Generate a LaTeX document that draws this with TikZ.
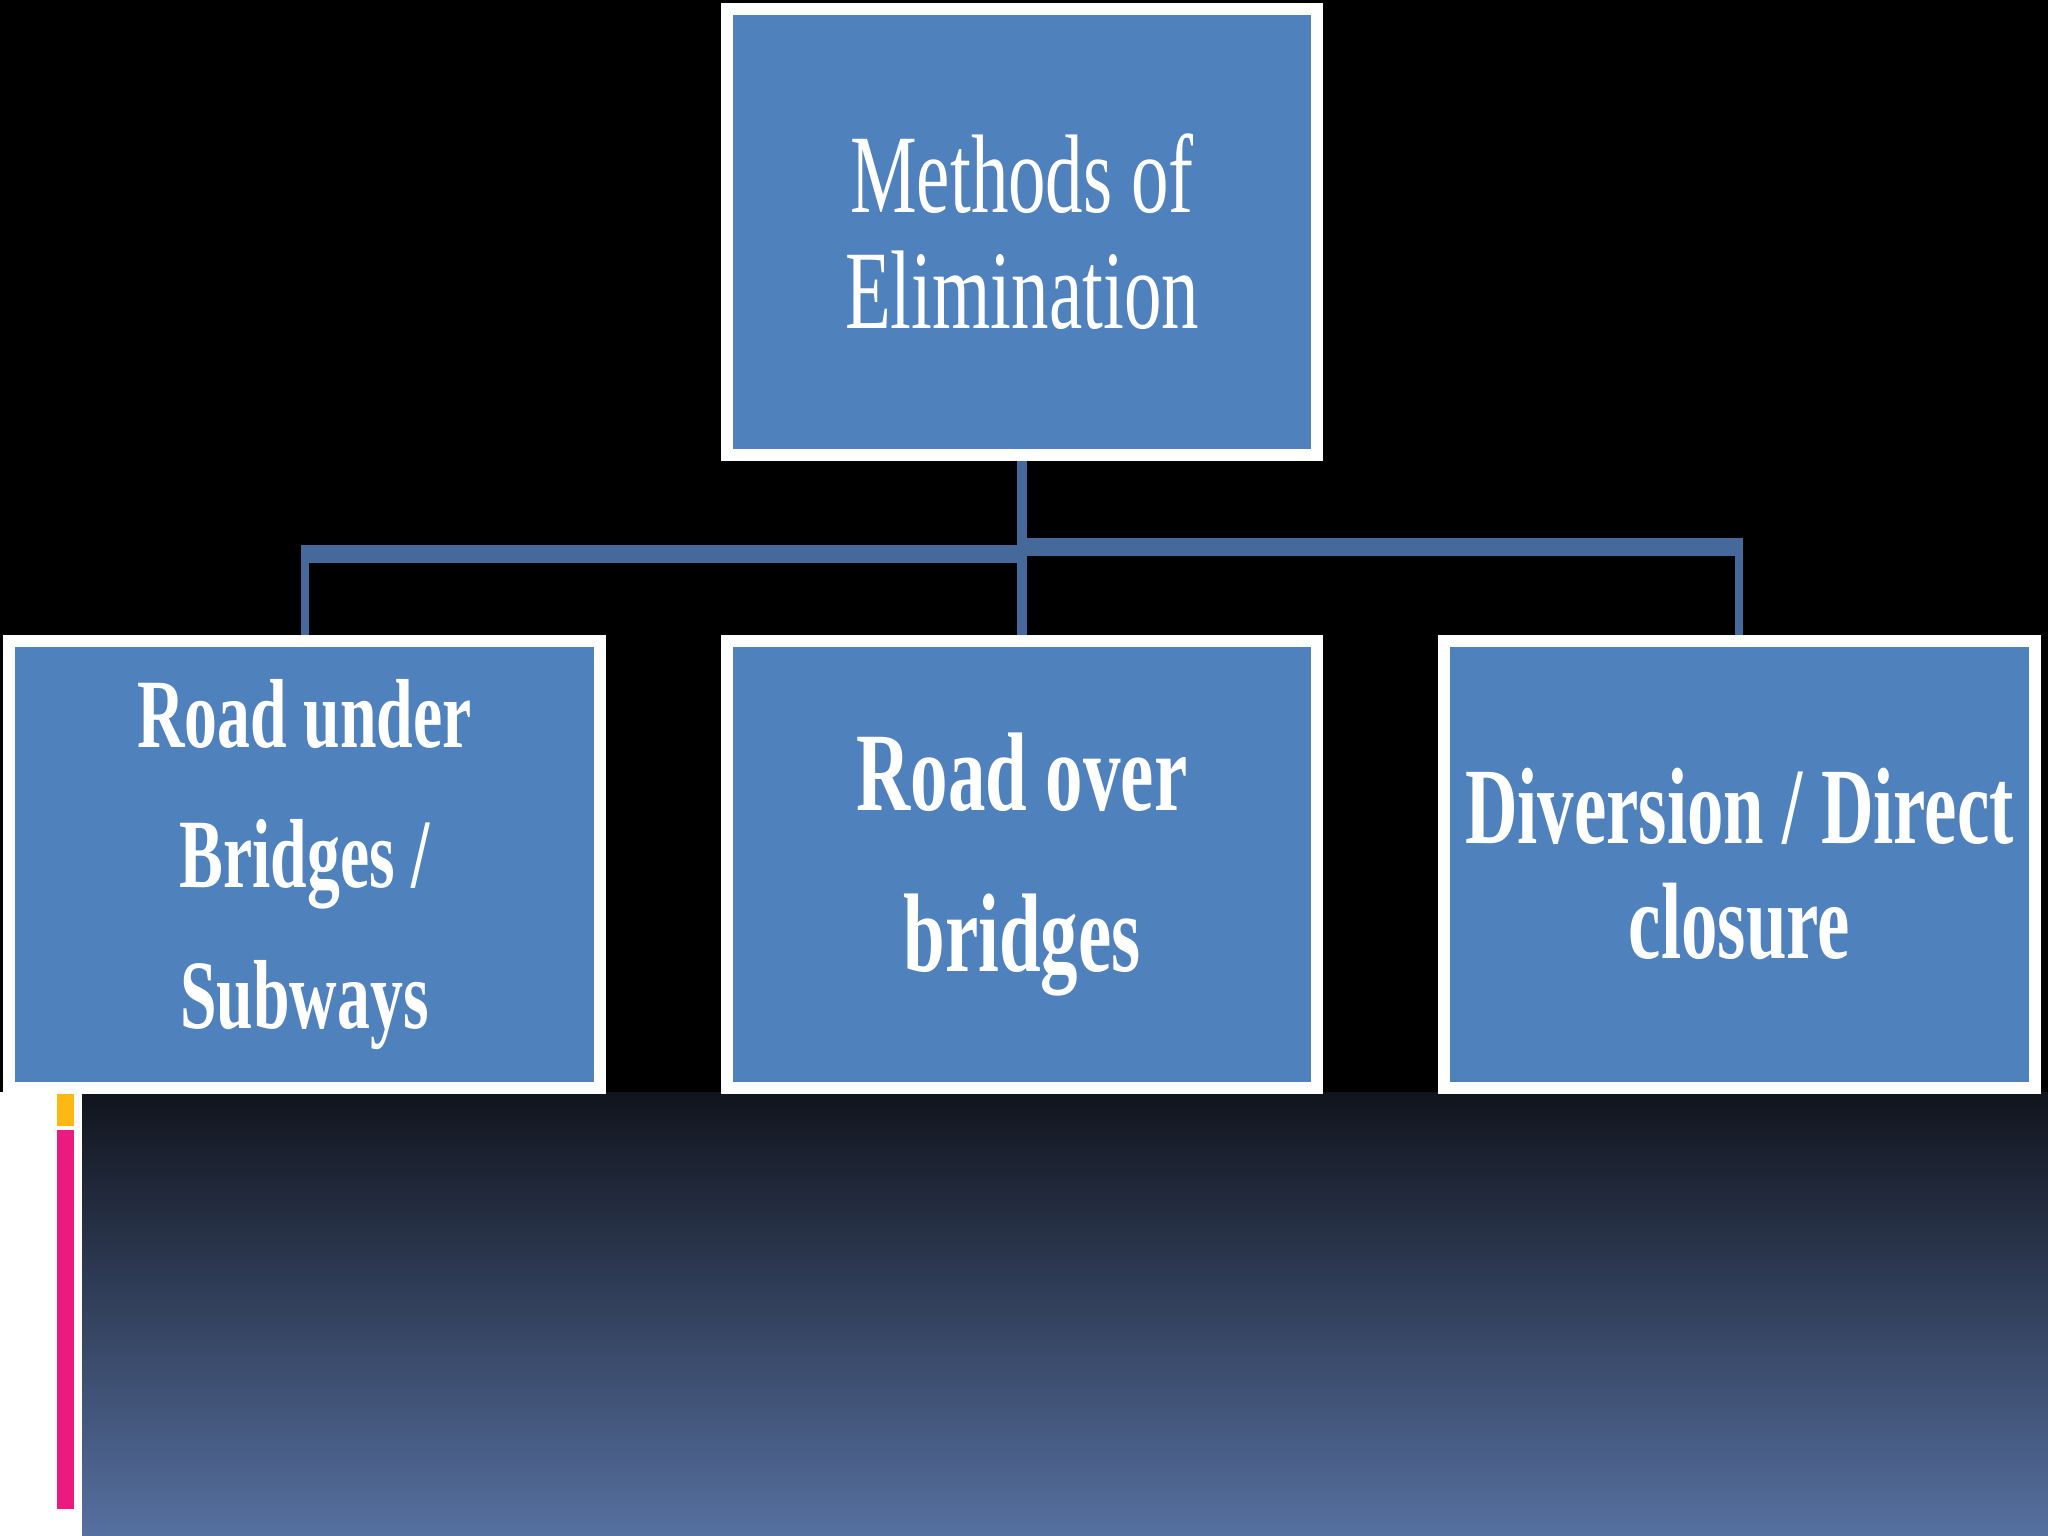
\documentclass[tikz,border=0pt]{standalone}
\usepackage{fontspec}
\newfontfamily\slimserif[FakeStretch=0.67]{Liberation Serif}
\usetikzlibrary{positioning}

\definecolor{boxblue}{HTML}{4F81BD}
\definecolor{linkblue}{HTML}{45699A}
\definecolor{shadetop}{HTML}{11141D}
\definecolor{shadebot}{HTML}{5670A0}
\definecolor{tabgold}{HTML}{FDB813}
\definecolor{tabpink}{HTML}{EA1A7F}

\begin{document}
\begin{tikzpicture}[
  x=0.01cm, y=-0.01cm,
  node distance=1.74cm and 1.15cm,
  box/.style={draw=white, fill=boxblue, line width=0.12cm, minimum width=5.90cm,
              minimum height=4.46cm, align=center, text=white, inner sep=0pt},
  link/.style={draw=linkblue, line width=0.09cm},
  bar/.style={draw=linkblue, line width=0.185cm},
]
  \useasboundingbox (0,0) rectangle (2048,1536);
  % slide background
  \fill[black] (0,0) rectangle (2048,1092);
  \fill[white] (0,1092) rectangle (82,1536);
  \shade[top color=shadetop, bottom color=shadebot] (82,1092) rectangle (2048,1536);
  \fill[tabgold] (57,1092) rectangle (74,1126);
  \fill[tabpink] (57,1130) rectangle (74,1509);

  \node[box, font=\slimserif\fontsize{31.8}{33}\selectfont] (top) at (1022,232)
    {Methods of\\Elimination};
  \node[box, below=of top, font=\slimserif\bfseries\fontsize{31.8}{45.6}\selectfont] (mid)
    {Road over\\bridges};
  \node[box, left=of mid, font=\slimserif\bfseries\fontsize{27.9}{40}\selectfont] (left)
    {Road under\\Bridges /\\Subways};
  \node[box, right=of mid, font=\slimserif\bfseries\fontsize{30.9}{32.7}\selectfont] (right)
    {Diversion / Direct\\closure};

  \draw[bar] (left.north |- 0,554) -- (top.south |- 0,554);
  \draw[bar] (top.south |- 0,547) -- (right.north |- 0,547);
  \draw[link, line width=0.1cm] (top.south) -- (mid.north);
  \draw[link, line width=0.08cm] (left.north) -- (left.north |- 0,545);
  \draw[link, line width=0.08cm] (right.north) -- (right.north |- 0,538);
\end{tikzpicture}
\end{document}
